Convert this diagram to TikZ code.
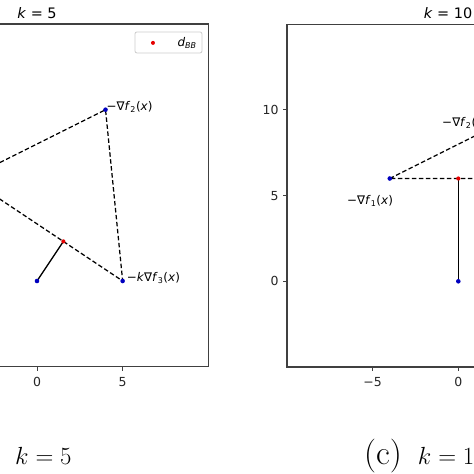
\documentclass[tikz,border=0pt]{standalone}
\usepackage{fontspec}
\newfontfamily\dvs{DejaVu Sans}
\tikzset{
  spine/.style={draw=black!75, line width=1.2bp},
  tickmark/.style={draw=black!75, line width=1bp},
  ticklab/.style={font=\dvs\fontsize{12.5}{14}\selectfont, text=black!85, inner sep=0pt},
  hulledge/.style={black, line width=1.25bp, dash pattern=on 4.5bp off 2.5bp},
  dirline/.style={black, line width=1.3bp},
  bdot/.style={fill=blue!75!black},
  rdot/.style={fill=red!90!black},
  annot/.style={font=\dvs\fontsize{12}{14}\selectfont, inner sep=0pt},
  ttl/.style={font=\dvs\fontsize{14.5}{17}\selectfont, inner sep=0pt},
  capt/.style={font=\fontsize{34}{38}\selectfont, inner sep=0pt, anchor=base west},
}
\begin{document}
\begin{tikzpicture}[x=1bp,y=1bp]
\useasboundingbox (0,0) rectangle (474,474);
\clip (0,0) rectangle (474,474);
\fill[white] (0,0) rectangle (474,474);

% panel k = 5
\begin{scope}[shift={(37,193)}, x=17.13bp, y=17.13bp]
\draw[spine] (-10,-5) rectangle (10,15);
\foreach \x [count=\i] in {0,5}
  \draw[tickmark] (\x,-5) -- ++(0,-4bp) ++(0,-11bp) node[ticklab] (Lxt\i) {\x};
\node[ttl] (Lttl) at ([yshift=11bp]0,15) {\textit{k} = 5};
\coordinate (Lo) at (0,0);
\coordinate (Lf1) at (-4,6);
\coordinate (Lf2) at (4,10);
\coordinate (Lf3) at (5,0);
\coordinate (Ld) at (1.54,2.31);
\draw[hulledge] (Lf1) -- (Lf2) -- (Lf3) -- cycle;
\draw[dirline] (Lo) -- (Ld);
\foreach \p in {Lo,Lf1,Lf2,Lf3} \fill[bdot] (\p) circle (2.3bp);
\fill[rdot] (Ld) circle (2.1bp);
\node[annot, anchor=west] (Lf2lab) at ([xshift=1bp,yshift=3bp]Lf2) {−∇\textit{f}\textsubscript{2}(\textit{x})};
\node[annot, anchor=west] (Lf3lab) at ([xshift=4bp,yshift=3bp]Lf3) {−\textit{k}∇\textit{f}\textsubscript{3}(\textit{x})};
% legend
\draw[draw=black!20, fill=white, rounded corners=2bp, line width=0.8bp] (5.72,13.31) rectangle (9.63,14.54);
\fill[rdot] (6.77,13.9) circle (2bp);
\node[ttl, font=\dvs\fontsize{12}{14}\selectfont] (Lleg) at (8.76,13.9) {\textit{d}\textsubscript{\textit{BB}}};
\end{scope}

% panel k = 10
\begin{scope}[shift={(458.3,192.7)}, x=17.13bp, y=17.13bp]
\draw[spine] (-10,-5) rectangle (8.8,15);
\foreach \x/\lab [count=\i] in {-5/−5, 0/0}
  \draw[tickmark] (\x,-5) -- ++(0,-4bp) ++(0,-11bp) node[ticklab] (Rxt\i) {\lab};
\foreach \y [count=\i] in {0,5,10}
  \draw[tickmark] (-10,\y) -- ++(-4bp,0) ++(-4bp,0) node[ticklab, anchor=east] (Ryt\i) {\y};
\node[ttl] (Rttl) at ([yshift=11bp]-0.6,15) {\textit{k} = 10};
\coordinate (Ro) at (0,0);
\coordinate (Rf1) at (-4,6);
\coordinate (Rf2) at (4,10);
\coordinate (Rf3) at (10,6);
\coordinate (Rd) at (0,6);
\draw[hulledge] (Rf1) -- (Rf2) -- (Rf3) -- cycle;
\draw[dirline] (Ro) -- (Rd);
\foreach \p in {Ro,Rf1,Rf2,Rf3} \fill[bdot] (\p) circle (2.3bp);
\fill[rdot] (Rd) circle (2.1bp);
\node[annot] (Rf1lab) at (-5.15,4.69) {−∇\textit{f}\textsubscript{1}(\textit{x})};
\node[annot, anchor=west] (Rf2lab) at (-0.95,9.24) {−∇\textit{f}\textsubscript{2}(\textit{x})};
\end{scope}

% captions
\node[capt] (capL) at (15,9) {$k = 5$};
\node[capt] (capR) at (364,9) {(c)\hspace{16bp}$k = 10$};
\end{tikzpicture}
\end{document}
